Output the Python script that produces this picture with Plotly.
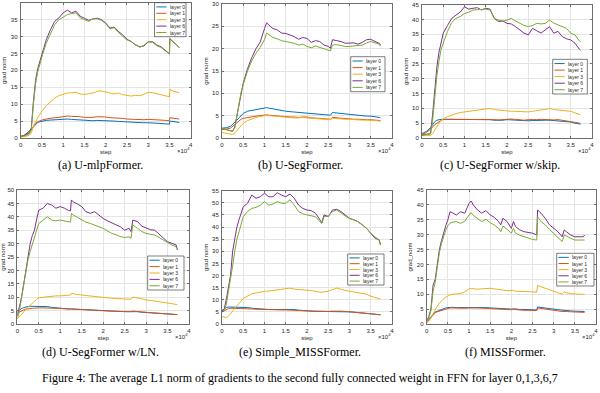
import plotly.graph_objects as go

# ---------------- data ----------------
LAYER_NAMES = ["layer 0", "layer 1", "layer 3", "layer 6", "layer 7"]
LAYER_COLORS = ["#0072BD", "#D95319", "#EDB120", "#7E2F8E", "#77AC30"]
X_TICK_VALS = [0, 5000, 10000, 15000, 20000, 25000, 30000, 35000, 40000]
X_TICK_TEXT = ["0", "0.5", "1", "1.5", "2", "2.5", "3", "3.5", "4"]

# (a) U-mlpFormer
STEPS_A = [0, 1000, 2000, 2500, 3000, 3500, 4000, 4500, 5000,
           6000, 7000, 8000, 9000, 10000, 11000, 12000, 13000, 14000, 15000,
           16000, 17000, 18000, 19000, 20000, 21000, 22000, 23000, 24000, 25000,
           26000, 27000, 28000, 29000, 30000, 31000, 32000, 33000, 34000, 35000,
           35100, 36000, 37000, 37300]
A_L0 = [0.3, 1.0, 2.0, 2.7, 3.5, 4.2, 4.6, 4.8, 5.0,
        5.2, 5.3, 5.4, 5.5, 5.5, 5.6, 5.5, 5.4, 5.3, 5.2,
        5.1, 5.1, 5.2, 5.2, 5.1, 5.0, 5.0, 4.9, 4.8, 4.7,
        4.6, 4.6, 4.5, 4.5, 4.5, 4.5, 4.4, 4.3, 4.2, 4.1,
        5.0, 4.8, 4.6, 4.6]
A_L1 = [0.5, 0.7, 1.5, 2.5, 3.5, 4.3, 4.8, 5.1, 5.3,
        5.6, 5.9, 6.0, 6.1, 6.3, 6.5, 6.4, 6.4, 6.3, 6.1,
        6.0, 6.1, 6.3, 6.3, 6.2, 6.0, 6.0, 5.9, 5.8, 5.6,
        5.5, 5.6, 5.5, 5.4, 5.5, 5.5, 5.4, 5.3, 5.2, 5.1,
        6.0, 5.8, 5.6, 5.6]
A_L3 = [0.3, 0.4, 0.8, 1.5, 3.5, 5.0, 6.0, 7.0, 8.0,
        9.5, 10.8, 11.8, 12.5, 13.0, 13.3, 13.4, 13.5, 13.0, 12.9,
        13.1, 13.3, 13.8, 13.9, 13.6, 13.2, 13.0, 13.3, 12.8, 12.6,
        12.4, 12.6, 12.5, 12.9, 13.5, 13.4, 13.0, 12.8, 12.5, 12.2,
        14.4, 13.8, 13.5, 13.4]
A_L6 = [0.5, 0.8, 1.5, 3.0, 11.0, 17.0, 20.5, 22.5, 24.5,
        29.0, 32.0, 34.5, 35.5, 37.0, 37.8, 37.0, 37.5, 36.0, 35.4,
        34.8, 35.2, 35.4, 35.0, 34.0, 32.5, 32.8, 31.5, 30.5, 29.2,
        28.5, 27.5, 27.0, 27.2, 28.4, 28.5, 27.5, 27.0, 26.0, 24.9,
        29.3, 28.2, 27.0, 26.8]
A_L7 = [0.5, 0.7, 1.2, 2.5, 10.0, 16.0, 19.5, 22.0, 24.0,
        28.0, 31.0, 33.5, 35.0, 35.8, 36.5, 36.8, 37.0, 35.5, 35.0,
        34.5, 35.3, 35.2, 34.8, 33.8, 32.3, 32.6, 31.2, 30.2, 29.0,
        28.5, 27.6, 26.8, 27.4, 28.5, 28.3, 27.3, 26.8, 25.8, 24.8,
        29.5, 28.2, 27.2, 26.6]

# (b) U-SegFormer
STEPS_B = [0, 1000, 2000, 2500, 3000, 3500, 4000, 4500, 5000,
           6000, 7000, 8000, 9000, 10000, 10500,
           11000, 12000, 13000, 14000, 15000, 16000, 17000, 18000, 19000, 20000,
           21000, 22000, 23000, 24000, 25000, 25500,
           26000, 27000, 28000, 29000, 30000, 31000, 32000, 33000, 34000, 35000,
           36000, 37000, 37300]
B_L0 = [2.2, 2.3, 2.6, 3.0, 3.5, 4.0, 4.5, 5.0, 5.5,
        6.0, 6.2, 6.4, 6.5, 6.8, 6.8,
        6.7, 6.5, 6.3, 6.1, 6.0, 5.9, 5.8, 5.7, 5.7, 5.6,
        5.5, 5.4, 5.3, 5.2, 5.1, 5.1,
        5.7, 5.6, 5.4, 5.4, 5.3, 5.2, 5.1, 5.0, 4.9, 4.9,
        4.8, 4.6, 4.5]
B_L1 = [2.0, 2.0, 2.2, 2.6, 3.1, 3.5, 3.9, 4.2, 4.4,
        4.6, 4.8, 4.9, 5.0, 5.2, 5.2,
        5.1, 5.0, 4.9, 4.8, 4.7, 4.7, 4.7, 4.6, 4.7, 4.7,
        4.5, 4.5, 4.4, 4.3, 4.2, 4.2,
        4.6, 4.5, 4.4, 4.3, 4.3, 4.2, 4.2, 4.1, 4.1, 4.1,
        4.0, 3.9, 3.9]
B_L3 = [1.2, 1.0, 0.9, 0.8, 1.1, 1.7, 2.3, 2.9, 3.3,
        3.9, 4.3, 4.6, 4.8, 5.0, 5.1,
        5.0, 4.9, 4.8, 4.7, 4.6, 4.6, 4.5, 4.5, 4.6, 4.5,
        4.4, 4.4, 4.3, 4.2, 4.1, 4.1,
        4.4, 4.3, 4.3, 4.2, 4.2, 4.1, 4.1, 4.0, 4.0, 4.0,
        3.9, 3.8, 3.8]
B_L6 = [2.0, 1.9, 1.6, 1.5, 2.5, 5.0, 8.0, 10.5, 12.3,
        15.5, 18.0, 20.0, 21.5, 24.5, 25.8,
        25.3, 24.5, 24.2, 23.5, 23.4, 23.0, 22.7, 22.1, 22.5, 22.3,
        21.4, 21.8, 21.6, 20.8, 20.5, 20.1,
        22.0, 21.8, 21.6, 21.2, 21.2, 21.3, 21.0, 21.4, 22.0, 22.1,
        21.6, 21.2, 20.8]
B_L7 = [2.1, 1.9, 1.6, 1.5, 2.3, 5.0, 8.0, 10.3, 12.0,
        15.0, 17.3, 19.0, 20.3, 22.0, 23.5,
        23.2, 22.5, 22.2, 21.8, 21.6, 21.4, 21.2, 20.8, 21.0, 20.5,
        20.2, 20.6, 20.3, 19.9, 19.7, 19.5,
        20.8, 20.9, 20.7, 20.5, 20.5, 20.6, 20.6, 20.8, 21.3, 21.6,
        21.3, 21.0, 20.6]

# (c) U-SegFormer w/skip
STEPS_C = [0, 1000, 2000, 2500, 3000, 3500, 4000, 4500, 5000,
           6000, 7000, 8000, 9000, 10000, 11000, 12000, 13000, 14000, 15000,
           16000, 17000, 18000, 19000, 20000, 21000, 22000, 23000, 24000, 25000,
           26000, 27000, 28000, 29000, 30000, 31000, 32000, 33000, 34000, 35000,
           36000, 37000, 37300]
C_L0 = [1.5, 2.2, 3.5, 4.5, 5.5, 6.0, 6.2, 6.3, 6.3,
        6.3, 6.2, 6.1, 6.1, 6.1, 6.1, 6.2, 6.2, 6.3, 6.3,
        6.2, 6.0, 5.9, 6.0, 6.2, 6.1, 6.0, 5.9, 5.8, 5.8,
        5.9, 6.0, 6.0, 6.0, 6.0, 5.9, 5.8, 5.7, 5.5, 5.4,
        5.0, 4.8, 4.7]
C_L1 = [1.2, 1.8, 3.0, 3.8, 4.5, 5.0, 5.5, 6.0, 6.3,
        6.3, 6.3, 6.2, 6.2, 6.2, 6.3, 6.3, 6.3, 6.4, 6.4,
        6.4, 6.2, 6.1, 6.2, 6.5, 6.4, 6.3, 6.1, 6.0, 6.2,
        6.1, 6.2, 6.3, 6.2, 6.3, 6.1, 6.2, 6.0, 5.8, 5.7,
        5.3, 5.0, 5.0]
C_L3 = [0.8, 0.8, 0.8, 1.5, 2.5, 3.8, 5.0, 5.8, 6.5,
        7.2, 7.8, 8.2, 8.6, 8.8, 9.0, 9.2, 9.4, 9.5, 9.8,
        10.0, 9.6, 9.4, 9.3, 9.2, 9.0, 9.0, 8.9, 8.8, 8.8,
        9.0, 9.3, 9.5, 9.6, 10.0, 9.6, 9.5, 9.4, 9.2, 9.0,
        8.5, 7.9, 7.8]
C_L6 = [1.0, 1.2, 1.5, 8.0, 17.0, 24.0, 29.0, 32.5, 35.4,
        38.0, 40.4, 41.5, 42.5, 44.3, 43.5, 43.8, 44.0, 43.2, 43.8,
        43.5, 40.4, 39.3, 39.5, 38.7, 38.5, 37.6, 36.5, 35.4, 34.8,
        37.0, 36.2, 35.4, 36.5, 37.6, 35.4, 36.0, 34.2, 33.5, 33.1,
        32.0, 30.0, 29.7]
C_L7 = [1.0, 1.1, 1.3, 6.0, 14.0, 21.0, 26.0, 30.0, 32.0,
        36.0, 39.0, 40.4, 41.0, 42.0, 42.5, 43.2, 43.3, 43.4, 43.5,
        43.2, 40.4, 39.8, 39.5, 39.8, 40.4, 39.5, 38.7, 38.0, 37.6,
        38.0, 38.7, 38.5, 38.7, 39.8, 38.8, 38.2, 37.8, 37.0, 35.4,
        34.8, 32.8, 32.5]

# (d) U-SegFormer w/LN
STEPS_D = [0, 500, 1000, 1500, 2000, 2500, 3000, 3500, 4000, 4500, 5000,
           6000, 7000, 8000, 9000, 10000, 11000, 12000,
           12400, 12600,
           13000, 14000, 15000, 16000, 17000, 18000, 19000, 20000, 21000, 22000,
           23000, 24000, 25000, 26000,
           26500, 26900,
           28000, 29000, 30000, 31000, 32000, 33000, 34000, 35000, 36000, 37000,
           37300]
D_L0 = [4.5, 5.3, 5.8, 6.1, 6.4, 6.5, 6.6, 6.6, 6.6, 6.6, 6.6,
        6.6, 6.5, 6.2, 6.0, 5.8, 5.7, 5.6,
        5.6, 5.7,
        5.6, 5.5, 5.4, 5.3, 5.2, 5.1, 5.0, 5.0, 4.9, 4.8,
        4.7, 4.7, 4.6, 4.6,
        4.6, 4.8,
        4.6, 4.4, 4.3, 4.2, 4.1, 4.0, 3.9, 3.8, 3.7, 3.5,
        3.5]
D_L1 = [4.0, 4.5, 5.0, 5.3, 5.5, 5.7, 5.8, 5.9, 5.9, 6.0, 6.0,
        6.0, 6.0, 6.0, 5.9, 5.8, 5.7, 5.6,
        5.6, 5.8,
        5.7, 5.5, 5.4, 5.3, 5.2, 5.1, 5.0, 5.0, 4.9, 4.8,
        4.7, 4.7, 4.6, 4.6,
        4.6, 4.8,
        4.6, 4.4, 4.3, 4.2, 4.1, 4.0, 3.9, 3.8, 3.7, 3.5,
        3.5]
D_L3 = [2.0, 2.8, 3.5, 4.5, 5.5, 6.3, 7.0, 7.8, 8.5, 9.2, 9.8,
        10.0, 10.2, 10.3, 10.5, 10.5, 10.6, 10.8,
        10.8, 11.5,
        11.3, 11.0, 10.8, 10.6, 10.4, 10.2, 10.1, 10.0, 9.8, 9.6,
        9.5, 9.4, 9.3, 9.3,
        9.2, 10.0,
        9.8, 9.4, 9.0, 8.8, 8.6, 8.4, 8.2, 8.0, 7.6, 7.3,
        7.2]
D_L6 = [3.0, 6.0, 10.0, 15.0, 20.0, 25.0, 30.0, 33.0, 35.0, 39.0, 42.5,
        43.2, 45.0, 44.4, 43.2, 43.8, 43.2, 42.3,
        42.2, 46.3,
        45.6, 44.8, 43.8, 41.9, 41.3, 41.9, 40.5, 39.4, 38.5, 37.6,
        37.0, 36.3, 35.0, 35.7,
        34.5, 38.8,
        38.2, 36.5, 35.7, 35.2, 35.0, 33.5, 32.0, 30.7, 30.1, 29.5,
        27.6]
D_L7 = [2.0, 5.0, 10.0, 15.0, 20.0, 24.0, 27.0, 30.0, 32.0, 35.0, 37.5,
        38.8, 40.0, 38.8, 38.5, 38.8, 38.5, 38.2,
        38.0, 41.3,
        40.7, 39.8, 38.8, 38.0, 37.5, 37.0, 36.3, 35.7, 34.8, 33.8,
        33.3, 32.6, 32.3, 32.5,
        32.0, 37.0,
        35.7, 34.5, 33.8, 33.5, 33.2, 32.3, 31.3, 30.4, 29.5, 28.8,
        28.2]

# (e) Simple_MISSFormer
STEPS_E = [0, 500, 1000, 1500, 2000, 2500, 3000, 3500, 4000, 4500, 5000,
           6000, 7000, 8000, 9000, 10000, 11000, 12000, 13000, 14000, 15000,
           16000, 17000, 18000, 19000, 20000, 21000, 22000, 23000,
           23500,
           24000, 25000, 26000, 27000, 28000, 29000, 30000, 31000, 32000, 33000,
           34000, 35000, 36000, 37000,
           37300]
E_L0 = [5.5, 6.2, 6.8, 7.0, 7.0, 7.0, 7.0, 7.0, 7.0, 7.0, 7.0,
        6.8, 6.5, 6.3, 6.1, 6.0, 6.0, 6.0, 6.0, 6.0, 6.0,
        6.2, 6.0, 5.7, 5.5, 5.3, 5.3, 5.2, 5.2,
        5.2,
        5.2, 5.2, 5.3, 5.3, 5.2, 5.1, 5.0, 4.9, 4.7, 4.6,
        4.4, 4.3, 4.1, 3.9,
        3.8]
E_L1 = [5.0, 5.5, 6.0, 6.3, 6.5, 6.5, 6.5, 6.5, 6.5, 6.5, 6.5,
        6.4, 6.2, 6.1, 6.0, 6.0, 5.9, 5.9, 5.9, 5.8, 5.8,
        5.8, 5.7, 5.6, 5.5, 5.4, 5.3, 5.3, 5.2,
        5.2,
        5.2, 5.2, 5.3, 5.4, 5.3, 5.2, 5.0, 4.9, 4.8, 4.6,
        4.5, 4.3, 4.1, 3.9,
        3.8]
E_L3 = [3.0, 2.8, 2.7, 3.2, 4.0, 5.2, 6.5, 7.5, 8.5, 9.5, 10.5,
        11.5, 12.5, 12.8, 13.2, 13.5, 13.6, 13.8, 14.0, 14.2, 14.4,
        14.8, 14.4, 14.3, 14.1, 14.0, 13.8, 13.5, 13.0,
        13.0,
        13.3, 13.5, 14.2, 14.8, 14.3, 13.8, 13.5, 13.2, 13.0, 12.8,
        12.3, 11.5, 11.0, 10.5,
        10.3]
E_L6 = [5.5, 6.0, 10.0, 15.0, 20.0, 30.0, 35.0, 40.0, 43.0, 46.0, 48.4,
        49.8, 53.2, 51.9, 52.5, 53.9, 52.5, 52.5, 54.2, 53.2, 52.5,
        53.6, 51.9, 49.1, 47.7, 47.0, 46.8, 45.7, 42.9,
        41.8,
        45.0, 44.3, 47.0, 47.3, 46.4, 45.0, 43.6, 43.0, 42.2, 40.9,
        39.5, 37.4, 35.4, 34.7,
        32.6]
E_L7 = [5.0, 5.5, 8.0, 13.0, 18.0, 24.0, 30.0, 35.0, 38.0, 41.5, 44.3,
        46.4, 47.7, 48.1, 49.0, 50.5, 49.1, 49.5, 50.5, 49.8, 49.8,
        51.2, 49.1, 46.4, 45.5, 45.0, 44.8, 44.3, 42.2,
        41.5,
        44.3, 44.6, 46.4, 47.0, 45.9, 44.5, 43.6, 43.0, 42.2, 41.0,
        39.5, 37.5, 36.0, 34.5,
        32.6]

# (f) MISSFormer
STEPS_F = [0, 500, 1000, 1500, 2000, 2500, 3000, 3500, 4000, 4500, 5000, 5500, 6000,
           7000, 8000, 9000, 10000,
           10500,
           11000, 12000, 13000, 14000, 15000, 16000, 17000,
           17500,
           18000, 19000, 20000,
           20500,
           21000, 22000, 23000, 24000, 25000, 26000,
           26200,
           27000, 28000, 29000, 30000, 31000, 32000,
           32500,
           33000, 34000, 35000, 36000, 37000,
           37300]
F_L0 = [0.5, 1.5, 2.5, 3.3, 4.0, 4.3, 4.6, 4.9, 5.2, 5.4, 5.5, 5.6, 5.6,
        5.5, 5.5, 5.5, 5.7,
        5.7,
        5.6, 5.6, 5.5, 5.5, 5.4, 5.3, 5.2,
        5.1,
        5.2, 5.1, 5.0,
        5.1,
        5.0, 4.9, 4.9, 4.8, 4.8, 4.7,
        5.7,
        5.5, 5.3, 5.1, 5.0, 4.8, 4.6,
        4.7,
        4.6, 4.4, 4.3, 4.3, 4.2,
        4.2]
F_L1 = [0.5, 1.3, 2.2, 3.0, 3.8, 4.1, 4.3, 4.6, 4.9, 5.1, 5.3, 5.4, 5.4,
        5.3, 5.3, 5.3, 5.4,
        5.5,
        5.4, 5.4, 5.3, 5.3, 5.2, 5.1, 5.0,
        4.9,
        5.0, 4.9, 4.8,
        4.9,
        4.8, 4.7, 4.6, 4.6, 4.5, 4.5,
        5.4,
        5.2, 5.0, 4.8, 4.6, 4.4, 4.2,
        4.3,
        4.2, 4.1, 4.0, 3.9, 3.9,
        3.9]
F_L3 = [0.5, 1.0, 2.0, 3.5, 5.0, 6.0, 7.0, 7.8, 8.5, 9.0, 9.5, 9.8, 10.0,
        10.1, 10.2, 10.8, 11.8,
        11.9,
        11.8, 11.7, 11.8, 12.0, 12.0, 11.8, 11.5,
        11.3,
        11.4, 11.2, 11.2,
        11.3,
        11.0, 11.0, 10.9, 10.8, 10.8, 10.7,
        13.0,
        12.5, 12.0, 11.4, 11.0, 10.5, 10.0,
        10.8,
        10.5, 10.2, 10.0, 10.0, 10.0,
        10.0]
F_L6 = [1.0, 2.5, 5.0, 13.0, 15.0, 20.0, 25.0, 28.0, 31.0, 33.0, 35.0, 37.7, 37.4,
        36.6, 37.7, 37.2, 40.5,
        41.3,
        40.0, 38.3, 37.2, 38.1, 36.6, 35.8, 34.4,
        33.3,
        35.5, 34.4, 32.1,
        34.4,
        32.7, 31.6, 31.0, 30.8, 30.5, 29.9,
        38.3,
        37.2, 35.5, 33.3, 32.1, 31.0, 29.3,
        31.6,
        31.0, 29.9, 29.3, 29.3, 29.3,
        29.9]
F_L7 = [1.0, 2.0, 4.5, 11.0, 14.0, 19.0, 24.0, 27.0, 29.5, 31.5, 33.0, 33.8, 34.2,
        34.4, 33.8, 34.5, 36.6,
        37.4,
        36.5, 35.5, 34.4, 35.2, 34.0, 33.2, 32.1,
        31.0,
        32.9, 31.8, 30.5,
        32.1,
        30.5, 29.8, 29.3, 28.9, 28.4, 28.2,
        36.0,
        34.4, 33.3, 31.8, 30.5, 29.3, 27.7,
        29.9,
        29.5, 28.8, 28.2, 28.2, 28.0,
        28.2]

PANELS = [
    dict(steps=STEPS_A, series=[A_L0, A_L1, A_L3, A_L6, A_L7], ymax=40,
         ylabel="grad norm", caption="(a) U-mlpFormer."),
    dict(steps=STEPS_B, series=[B_L0, B_L1, B_L3, B_L6, B_L7], ymax=30,
         ylabel="grad norm", caption="(b) U-SegFormer."),
    dict(steps=STEPS_C, series=[C_L0, C_L1, C_L3, C_L6, C_L7], ymax=45,
         ylabel="grad norm", caption="(c) U-SegFormer w/skip."),
    dict(steps=STEPS_D, series=[D_L0, D_L1, D_L3, D_L6, D_L7], ymax=50,
         ylabel="grad norm", caption="(d) U-SegFormer w/LN."),
    dict(steps=STEPS_E, series=[E_L0, E_L1, E_L3, E_L6, E_L7], ymax=55,
         ylabel="grad norm", caption="(e) Simple_MISSFormer."),
    dict(steps=STEPS_F, series=[F_L0, F_L1, F_L3, F_L6, F_L7], ymax=45,
         ylabel="grad_norm", caption="(f) MISSFormer."),
]
FIG_CAPTION = ("Figure 4: The average L1 norm of gradients to the second fully "
               "connected weight in FFN for layer 0,1,3,6,7")

# ---------------- layout (pixel boxes) ----------------
W, H = 600, 393
# plot area boxes: (left, top, right, bottom) in px
BOXES = [(20.7, 2.7, 190.7, 138), (222, 4, 392, 138), (422, 4.7, 592, 138),
         (17.3, 190, 189, 324), (222, 190.7, 392, 324), (426.7, 190, 596, 324)]
LEGEND_BOXES = [(154.5, 2.7, 186, 36.7), (350.7, 56.7, 385, 91.7),
                (552.7, 59.3, 587.3, 94), (147.7, 256, 184, 290),
                (347.7, 254, 384, 285), (556.7, 253.3, 594, 286)]
CAPTION_POS = [(100, 165), (300, 165), (500, 165), (100, 352), (300, 352), (505, 352)]

def px(x):
    return x / W

def py(y):
    return 1 - y / H

TICK_FONT = dict(family="Liberation Sans, Arial, sans-serif", size=6, color="#262626")
SERIF = "Liberation Serif, Times New Roman, serif"
AXIS_COLOR = "#6e6e6e"
GRID_COLOR = "#e4e4e4"

fig = go.Figure()
shapes = []
annotations = []

for i, p in enumerate(PANELS):
    n = i + 1
    xa = "x" if n == 1 else f"x{n}"
    ya = "y" if n == 1 else f"y{n}"
    for series, name, color in zip(p["series"], LAYER_NAMES, LAYER_COLORS):
        assert len(series) == len(p["steps"]), (i, name, len(series), len(p["steps"]))
        fig.add_trace(go.Scatter(x=p["steps"], y=series, mode="lines", name=name,
                                 line=dict(color=color, width=1),
                                 xaxis=xa, yaxis=ya, showlegend=False,
                                 hoverinfo="skip"))
    l, t, r, b = BOXES[i]
    xkey = "xaxis" if n == 1 else f"xaxis{n}"
    ykey = "yaxis" if n == 1 else f"yaxis{n}"
    fig.update_layout(**{
        xkey: dict(domain=[px(l), px(r)], anchor=ya, range=[0, 40000],
                   tickvals=X_TICK_VALS, ticktext=X_TICK_TEXT, automargin=False,
                   showline=True, mirror="ticks", linecolor=AXIS_COLOR, linewidth=1,
                   ticks="inside", ticklen=2, tickcolor=AXIS_COLOR, tickwidth=1,
                   showgrid=True, gridcolor=GRID_COLOR, gridwidth=1, zeroline=False,
                   tickfont=TICK_FONT, ticklabelstandoff=1,
                   title=dict(text="step", font=TICK_FONT, standoff=2)),
        ykey: dict(domain=[py(b), py(t)], anchor=xa, range=[0, p["ymax"]], dtick=5,
                   automargin=False,
                   showline=True, mirror="ticks", linecolor=AXIS_COLOR, linewidth=1,
                   ticks="inside", ticklen=2, tickcolor=AXIS_COLOR, tickwidth=1,
                   showgrid=True, gridcolor=GRID_COLOR, gridwidth=1, zeroline=False,
                   tickfont=TICK_FONT, ticklabelstandoff=1,
                   title=dict(text=p["ylabel"], font=TICK_FONT, standoff=3)),
    })
    # x10^4 exponent label
    annotations.append(dict(text="×10<sup>4</sup>", x=px(r + 1), y=py(b + 12),
                            xref="paper", yref="paper", xanchor="right", yanchor="middle",
                            showarrow=False, font=dict(family=TICK_FONT["family"], size=6,
                                                       color="#262626")))
    # legend (drawn manually, MATLAB-style compact box)
    lx0, ly0, lx1, ly1 = LEGEND_BOXES[i]
    shapes.append(dict(type="rect", xref="paper", yref="paper",
                       x0=px(lx0), x1=px(lx1), y0=py(ly1), y1=py(ly0),
                       fillcolor="white", line=dict(color="#262626", width=0.6),
                       layer="above"))
    step_h = (ly1 - ly0 - 2) / 5
    for k, (name, color) in enumerate(zip(LAYER_NAMES, LAYER_COLORS)):
        yy = ly0 + 1 + step_h * (k + 0.5)
        shapes.append(dict(type="line", xref="paper", yref="paper",
                           x0=px(lx0 + 1.8), x1=px(lx0 + 12), y0=py(yy), y1=py(yy),
                           line=dict(color=color, width=1), layer="above"))
        annotations.append(dict(text=name, x=px(lx0 + 13.5), y=py(yy), xref="paper",
                                yref="paper", xanchor="left", yanchor="middle",
                                showarrow=False,
                                font=dict(family=TICK_FONT["family"], size=5,
                                          color="#262626")))
    cx, cy = CAPTION_POS[i]
    annotations.append(dict(text=p["caption"], x=px(cx), y=py(cy), xref="paper",
                            yref="paper", xanchor="center", yanchor="middle",
                            showarrow=False,
                            font=dict(family=SERIF, size=12, color="#000000")))

annotations.append(dict(text=FIG_CAPTION, x=px(300), y=py(378), xref="paper",
                        yref="paper", xanchor="center", yanchor="middle",
                        showarrow=False, font=dict(family=SERIF, size=12, color="#000000")))

fig.update_layout(width=W, height=H, margin=dict(l=0, r=0, t=0, b=0, autoexpand=False),
                  paper_bgcolor="white", plot_bgcolor="white",
                  shapes=shapes, annotations=annotations, showlegend=False)

fig.write_html("out.html", config={"displayModeBar": False},
               post_script="document.body.style.margin='0';"
                           "document.body.style.overflow='hidden';")
